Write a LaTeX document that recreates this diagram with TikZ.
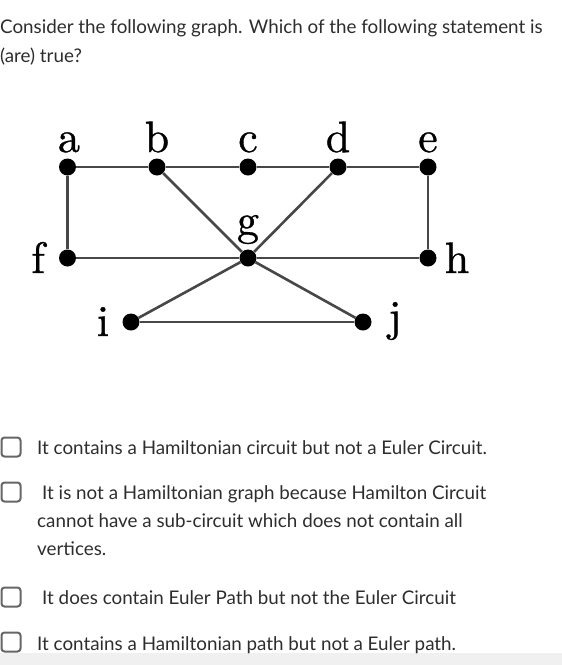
\documentclass[tikz,border=0pt]{standalone}
\usepackage{fontspec}
\setsansfont{Lato}
\newfontfamily\lmten{lmroman10-regular.otf}[FakeBold=0.8]
\definecolor{edgegray}{HTML}{474747}
\definecolor{txtgray}{HTML}{2D2D2D}
\definecolor{boxgray}{HTML}{666666}
\definecolor{bargray}{HTML}{F0F0F0}
\begin{document}
\begin{tikzpicture}[x=1pt,y=-1pt,
  dot/.style={circle, fill=black, inner sep=0pt, minimum size=17pt},
  lbl/.style={font=\lmten\fontsize{44}{44}\selectfont, inner sep=0pt, anchor=base},
  edge/.style={draw=edgegray, line width=2.6pt},
  txt/.style={font=\sffamily\fontsize{18.8}{22}\selectfont, text=txtgray, inner sep=0pt, anchor=base west},
  cbox/.style={draw=boxgray, line width=2pt, rounded corners=3pt, minimum size=19pt, inner sep=0pt}]
\useasboundingbox (0,0) rectangle (562,665);
% question
\node[txt] (q1) at (0,33) {Consider the following graph. Which of the following statement is};
\node[txt] (q2) at (0,62) {(are) true?};
% graph vertices
\node[dot] (a) at (67.5,167) {};
\node[dot] (b) at (157,167) {};
\node[dot] (c) at (248,167) {};
\node[dot] (d) at (338,167) {};
\node[dot] (e) at (428,167) {};
\node[dot] (f) at (67.5,258) {};
\node[dot] (g) at (248,258) {};
\node[dot] (h) at (428,258) {};
\node[dot] (i) at (131,322) {};
\node[dot] (j) at (363,322) {};
% labels
\node[lbl] (la) at (69,152) {a};
\node[lbl] (lb) at (157,152) {b};
\node[lbl] (lc) at (248,152) {c};
\node[lbl] (ld) at (338,152) {d};
\node[lbl] (le) at (428,152) {e};
\node[lbl] (lg) at (248,235) {g};
\node[lbl] (lf) at (38,273) {f};
\node[lbl] (lh) at (457,273) {h};
\node[lbl] (li) at (103,336) {i};
\node[lbl] (lj) at (395,331) {j};
% edges
\draw[edge] (a) -- (b);
\draw[edge] (b) -- (c);
\draw[edge] (c) -- (d);
\draw[edge] (d) -- (e);
\draw[edge] (a) -- (f);
\draw[edge] (e) -- (h);
\draw[edge] (f) -- (g);
\draw[edge] (g) -- (h);
\draw[edge] (b) -- (g);
\draw[edge] (d) -- (g);
\draw[edge] (g) -- (i);
\draw[edge] (g) -- (j);
\draw[edge] (i) -- (j);
% bottom bar
\fill[bargray] (0,653) rectangle (562,665);
% options
\node[cbox] (cb1) at (11,447) {};
\node[cbox] (cb2) at (11,492) {};
\node[cbox] (cb3) at (11,597) {};
\node[cbox] (cb4) at (11,642) {};
\node[txt] (o1) at (37,454) {It contains a Hamiltonian circuit but not a Euler Circuit.};
\node[txt] (o2a) at (42,499) {It is not a Hamiltonian graph because Hamilton Circuit};
\node[txt] (o2b) at (37,527) {cannot have a sub-circuit which does not contain all};
\node[txt] (o2c) at (37,555) {vertices.};
\node[txt] (o3) at (42,604) {It does contain Euler Path but not the Euler Circuit};
\node[txt] (o4) at (37,650) {It contains a Hamiltonian path but not a Euler path.};
\end{tikzpicture}
\end{document}
